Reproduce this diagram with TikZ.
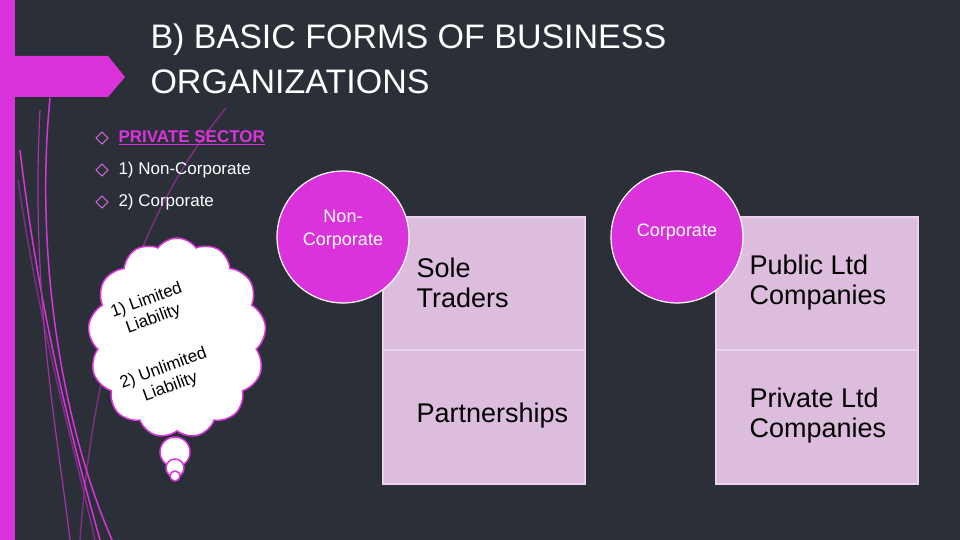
\documentclass[tikz,border=0pt]{standalone}
\usepackage{fontspec}
\setmainfont{Liberation Sans}
\usetikzlibrary{shapes.symbols}
\definecolor{bg}{HTML}{2B3038}
\definecolor{mag}{HTML}{DB33DB}
\definecolor{dmag}{HTML}{7A2F80}
\definecolor{lilac}{HTML}{DDBDDD}
\definecolor{lilacb}{HTML}{EBD3EB}
\tikzset{
  box/.style={fill=lilac,draw=lilacb,line width=1.2pt},
  boxtxt/.style={anchor=west,align=left,font=\fontsize{27}{30}\selectfont,text=black},
  circ/.style={circle,fill=mag,draw=white,line width=1.2pt,minimum size=132pt,text=white,align=center,font=\fontsize{18}{23}\selectfont},
  bul/.style={anchor=west,text=white,font=\fontsize{17}{19}\selectfont},
  dia/.style={draw=mag!70!white,line width=0.8pt},
}
\begin{document}
\begin{tikzpicture}[x=1pt,y=-1pt]
\fill[bg] (0,0) rectangle (960,540);
\useasboundingbox (0,0) rectangle (960,540);
% decorative curves
\draw[dmag,line width=1.5pt] (226,108) .. controls (150,200) and (95,330) .. (80,540);
\draw[dmag,line width=1.5pt] (18,180) .. controls (40,330) and (70,430) .. (95,540);
\draw[mag,line width=1.5pt] (50,98) .. controls (35,250) and (60,420) .. (112,540);
\draw[mag,line width=1.5pt] (20,150) .. controls (40,320) and (75,450) .. (100,540);
\draw[mag!70!bg,line width=1.2pt] (40,110) .. controls (30,300) and (60,450) .. (70,540);
% left bar and tab
\fill[mag] (0,0) rectangle (15,540);
\fill[mag] (0,56) -- (108,56) -- (125,77) -- (108,97) -- (0,97) -- cycle;
% title
\node[anchor=west,text=white,font=\fontsize{34}{38}\selectfont] (t1) at (147,40) {B) BASIC FORMS OF BUSINESS};
\node[anchor=west,text=white,font=\fontsize{34}{38}\selectfont] (t2) at (147,82) {ORGANIZATIONS};
% bullets
\foreach \y in {138,170,202}{
  \draw[dia] (102,\y-6) -- (108,\y) -- (102,\y+6) -- (96,\y) -- cycle;
}
\node[bul,text=mag,font=\bfseries\fontsize{17}{19}\selectfont] (b1) at (115,138) {\underline{PRIVATE SECTOR}};
\node[bul] (b2) at (115,170) {1) Non-Corporate};
\node[bul] (b3) at (115,202) {2) Corporate};
% cloud
\node[cloud,cloud puffs=13,cloud puff arc=110,aspect=0.85,fill=white,draw=mag,line width=1.5pt,minimum width=178pt,minimum height=200pt] (cl) at (177,338) {};
\node[circle,fill=white,draw=mag,line width=1.5pt,minimum size=30pt,inner sep=0pt] (c1) at (175,452) {};
\node[circle,fill=white,draw=mag,line width=1.5pt,minimum size=18pt,inner sep=0pt] (c2) at (175,468) {};
\node[circle,fill=white,draw=mag,line width=1.5pt,minimum size=10pt,inner sep=0pt] (c3) at (175,476) {};
\node[rotate=20,align=center,inner sep=0pt,font=\fontsize{17}{20}\selectfont] (l1) at (150,310) {1) Limited\\Liability};
\node[rotate=20,align=center,inner sep=0pt,font=\fontsize{17}{20}\selectfont] (l2) at (167,378) {2) Unlimited\\Liability};
% boxes
\draw[box] (383,217) rectangle (585,350);
\draw[box] (383,350) rectangle (585,484);
\draw[box] (716,217) rectangle (918,350);
\draw[box] (716,350) rectangle (918,484);
\node[boxtxt] (s1) at (413,283) {Sole\\Traders};
\node[boxtxt] (s2) at (413,416) {Partnerships};
\node[boxtxt] (s3) at (746,283) {Public Ltd\\Companies};
\node[boxtxt] (s4) at (746,416) {Private Ltd\\Companies};
% circles
\node[circ] (nc) at (343,237) {Non-\\Corporate\\[-4pt]};
\node[circ] (co) at (677,237) {Corporate\\[-10pt]};
\end{tikzpicture}
\end{document}
